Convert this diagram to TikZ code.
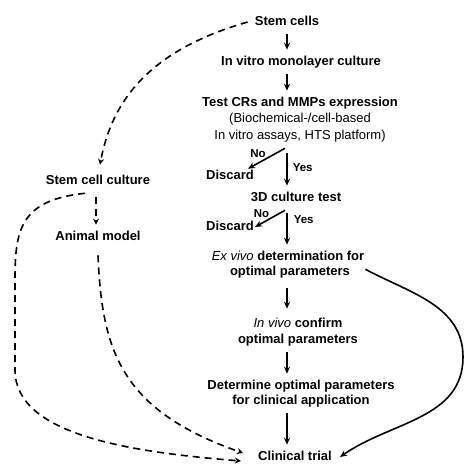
\documentclass[tikz,border=0pt]{standalone}
\usepackage{fontspec}
\setmainfont{Liberation Sans}
\usetikzlibrary{arrows.meta}
\begin{document}
\begin{tikzpicture}[x=1pt,y=-1pt,
 txt/.style={font=\fontsize{13}{15}\selectfont\bfseries, text height=9.5pt, text depth=2.7pt, inner xsep=1pt, inner ysep=6pt},
 reg/.style={txt, font=\fontsize{13}{15}\selectfont},
 lbl/.style={font=\fontsize{11.5}{13}\selectfont\bfseries, inner sep=0pt, text height=8pt, text depth=0pt},
 arr/.style={line width=1.6pt, -{Stealth[length=7pt,width=6pt]}},
 darr/.style={line width=1.6pt, dash pattern=on 7pt off 5pt, -{Stealth[length=6pt,width=6pt]}},
]
\useasboundingbox (0,0) rectangle (474,474);
\fill[white] (0,0) rectangle (474,474);
\coordinate (spine) at (287,0);
% main column
\node[txt] (sc) at (287,22) {Stem cells};
\node[txt] (ivm) at (301,62) {In vitro monolayer culture};
\node[txt] (test) at (300,103) {Test CRs and MMPs expression};
\node[reg] (testa) at (300,119) {(Biochemical-/cell-based};
\node[reg] (testb) at (300,136) {In vitro assays, HTS platform)};
\node[txt, inner ysep=1pt] (d1) at (230,176) {Discard};
\node[txt] (td) at (296,198) {3D culture test};
\node[txt, inner ysep=1pt] (d2) at (230,227) {Discard};
\node[txt] (ev1) at (288,257) {\textit{\mdseries Ex vivo} determination for};
\node[txt] (ev2) at (290,272) {optimal parameters};
\node[txt] (iv1) at (298,324) {\textit{\mdseries In vivo} confirm};
\node[txt] (iv2) at (298,340) {optimal parameters};
\node[txt] (dt1) at (301,386) {Determine optimal parameters};
\node[txt] (dt2) at (301,401) {for clinical application};
\node[txt] (ct) at (295,457) {Clinical trial};
% left column
\node[txt] (scc) at (98,181) {Stem cell culture};
\node[txt] (am) at (98,237) {Animal model};

% main arrows
\draw[arr] (sc.south -| spine) -- (ivm.north -| spine);
\draw[arr] (ivm.south -| spine) -- (test.north -| spine);
\draw[arr] ([xshift=-2pt]testb.south -| spine) -- ([xshift=-7pt]d1.north east)
  node[lbl, pos=0.5, above left=0pt] {No};
\draw[arr, shorten <=5pt] (testb.south -| spine) -- (td.north -| spine)
  node[lbl, pos=0.5, right=5pt] {Yes};
\draw[arr] ([xshift=-2pt]td.south -| spine) -- (d2.east)
  node[lbl, pos=0.5, above left=0pt] {No};
\draw[arr, shorten <=3pt] (td.south -| spine) -- (ev1.north -| spine)
  node[lbl, pos=0.28, right=6pt] {Yes};
\draw[arr, shorten <=4pt, shorten >=3pt] (ev2.south -| spine) -- (iv1.north -| spine);
\draw[arr] (iv2.south -| spine) -- (dt1.north -| spine);
\draw[arr] (dt2.south -| spine) -- (ct.north -| spine);

% solid curve to clinical trial
\coordinate (bulge) at (463,357);
\draw[arr] (ev1.south east) to[out=-28,in=90] (bulge) to[out=-90,in=35] ([xshift=7pt]ct.east);

% dashed connectors
\draw[darr] ([xshift=-6pt]sc.west) .. controls (150,50) and (112,100) .. ([xshift=2pt,yshift=4pt]scc.north);
\draw[darr] ([xshift=-2pt,yshift=-4pt]scc.south) -- ([xshift=-2pt]am.north);
\coordinate (lt) at (15,280);
\coordinate (lb) at (15,370);
\draw[darr] ([xshift=-13pt]scc.south) .. controls (20,200) and (15,230) .. (lt) -- (lb)
  .. controls (15,435) and (130,452) .. ([xshift=-16pt,yshift=-4pt]ct.west);
\draw[darr] ([yshift=-6pt]am.south) .. controls (102,350) and (120,410) .. ([xshift=-14pt,yshift=4pt]ct.west);
\end{tikzpicture}
\end{document}
